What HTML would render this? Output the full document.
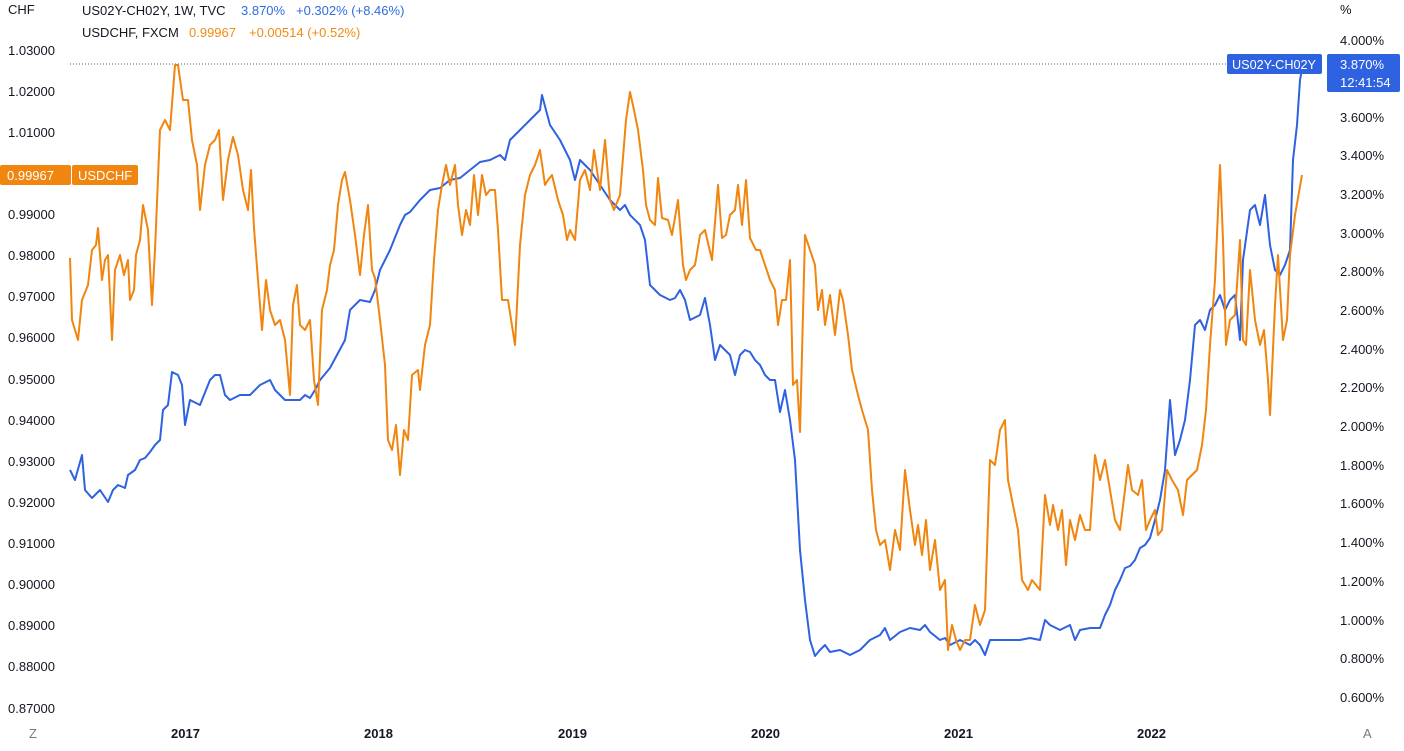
<!DOCTYPE html>
<html><head><meta charset="utf-8"><style>
body{margin:0;background:#fff;width:1404px;height:746px;overflow:hidden;font-family:"Liberation Sans",sans-serif}
svg text{font-family:"Liberation Sans",sans-serif;font-size:13px;fill:#131722}
</style></head><body>
<svg width="1404" height="746" xmlns="http://www.w3.org/2000/svg">
<rect width="1404" height="746" fill="#fff"/>
<text x="8" y="14">CHF</text>
<text x="82" y="15">US02Y-CH02Y, 1W, TVC</text>
<text x="241" y="15" style="fill:#2f6ce0">3.870%</text>
<text x="296" y="15" style="fill:#2f6ce0">+0.302% (+8.46%)</text>
<text x="82" y="37">USDCHF, FXCM</text>
<text x="189" y="37" style="fill:#f08a14">0.99967</text>
<text x="249" y="37" style="fill:#f08a14">+0.00514 (+0.52%)</text>
<g>
<text x="8" y="55">1.03000</text><text x="8" y="96">1.02000</text><text x="8" y="137">1.01000</text>
<text x="8" y="219">0.99000</text><text x="8" y="260">0.98000</text><text x="8" y="301">0.97000</text>
<text x="8" y="342">0.96000</text><text x="8" y="384">0.95000</text><text x="8" y="425">0.94000</text>
<text x="8" y="466">0.93000</text><text x="8" y="507">0.92000</text><text x="8" y="548">0.91000</text>
<text x="8" y="589">0.90000</text><text x="8" y="630">0.89000</text><text x="8" y="671">0.88000</text>
<text x="8" y="713">0.87000</text>
</g>
<g>
<text x="1340" y="14">%</text>
<text x="1340" y="45">4.000%</text><text x="1340" y="122">3.600%</text><text x="1340" y="160">3.400%</text>
<text x="1340" y="199">3.200%</text><text x="1340" y="238">3.000%</text><text x="1340" y="276">2.800%</text>
<text x="1340" y="315">2.600%</text><text x="1340" y="354">2.400%</text><text x="1340" y="392">2.200%</text>
<text x="1340" y="431">2.000%</text><text x="1340" y="470">1.800%</text><text x="1340" y="508">1.600%</text>
<text x="1340" y="547">1.400%</text><text x="1340" y="586">1.200%</text><text x="1340" y="625">1.000%</text>
<text x="1340" y="663">0.800%</text><text x="1340" y="702">0.600%</text>
</g>
<g>
<text x="171" y="738" style="font-weight:bold">2017</text><text x="364" y="738" style="font-weight:bold">2018</text>
<text x="558" y="738" style="font-weight:bold">2019</text><text x="751" y="738" style="font-weight:bold">2020</text>
<text x="944" y="738" style="font-weight:bold">2021</text><text x="1137" y="738" style="font-weight:bold">2022</text>
</g>
<text x="29" y="738" style="fill:#787b86">Z</text><text x="1363" y="738" style="fill:#787b86">A</text>
<line x1="70" y1="64" x2="1228" y2="64" stroke="#555" stroke-dasharray="1,2"/>
<polyline fill="none" stroke="#2f62e0" stroke-width="2" stroke-linejoin="round" points="70,470 75,480 82,455 85,490 92,498 100,490 108,502 113,490 118,485 125,488 128,475 135,470 140,460 145,458 150,452 155,445 160,440 163,410 168,405 172,372 178,375 182,385 185,425 190,400 200,405 210,380 215,375 220,375 225,395 230,400 240,395 250,395 260,385 270,380 275,390 285,400 300,400 305,395 310,398 315,390 320,380 330,368 345,340 350,310 360,300 370,302 375,290 380,270 390,250 400,225 405,215 410,212 420,200 430,190 440,188 450,180 460,178 470,170 480,162 490,160 500,155 505,160 510,140 520,130 530,120 540,110 542,95 550,125 560,140 570,160 575,180 580,160 590,170 600,185 610,200 620,210 625,205 630,215 640,225 645,240 650,285 660,295 670,300 675,298 680,290 685,300 690,320 700,315 705,298 710,325 715,360 720,345 730,355 735,375 740,355 745,350 750,352 755,360 760,365 765,375 770,380 775,380 780,412 785,390 790,420 795,460 800,550 805,600 810,640 815,656 820,650 825,645 830,652 840,650 850,655 860,650 870,640 880,635 885,628 890,640 900,632 910,628 920,630 925,625 930,632 940,640 945,638 950,645 960,640 970,645 975,640 980,645 985,655 990,640 1000,640 1010,640 1020,640 1030,638 1040,640 1045,620 1050,625 1060,630 1070,625 1075,640 1080,630 1090,628 1100,628 1105,615 1110,605 1115,590 1120,580 1125,568 1130,566 1135,560 1140,548 1145,545 1150,538 1155,520 1160,500 1165,470 1170,400 1175,455 1180,440 1185,420 1190,380 1195,325 1200,320 1205,330 1210,310 1215,305 1220,295 1225,310 1230,300 1235,295 1240,340 1243,260 1250,210 1255,205 1260,225 1265,195 1270,245 1275,270 1280,275 1285,265 1290,250 1293,160 1297,125 1300,80 1303,64"/>
<polyline fill="none" stroke="#f0860f" stroke-width="2" stroke-linejoin="round" points="70,258 72,320 78,340 82,300 88,285 92,250 96,245 98,228 102,280 105,260 108,255 112,340 115,270 120,255 124,275 128,260 130,300 134,290 136,255 140,240 143,205 148,230 152,305 155,250 160,130 165,120 170,130 175,65 178,65 183,100 188,100 192,140 197,165 200,210 205,165 210,145 215,140 219,130 223,200 228,160 233,137 238,155 243,190 248,210 251,170 254,228 258,280 262,330 266,280 270,310 275,325 280,320 285,340 290,395 293,305 297,285 300,325 305,330 310,320 314,380 318,405 322,310 327,290 330,265 334,250 338,205 342,180 345,172 350,200 355,235 360,275 364,235 368,205 372,270 375,278 380,320 385,365 388,440 392,450 396,425 400,475 404,430 408,440 412,375 418,370 420,390 425,345 430,325 434,260 438,210 442,185 446,165 450,185 455,165 458,205 462,235 466,210 470,225 474,175 478,215 482,175 486,195 490,190 495,190 498,230 502,300 508,300 515,345 520,245 525,195 530,175 535,165 540,150 545,185 548,180 552,175 558,200 563,215 567,240 570,230 575,240 580,180 585,170 590,190 594,150 600,190 605,140 610,200 614,210 620,195 626,120 630,92 634,110 638,130 643,170 646,205 650,220 655,225 658,178 662,218 668,220 672,235 678,200 683,265 686,280 690,270 695,265 700,235 705,230 712,260 718,185 722,238 726,235 730,215 735,210 738,185 742,225 746,180 750,238 756,250 760,250 765,265 770,280 775,290 778,325 782,300 786,300 790,260 793,385 797,380 800,432 805,235 810,250 815,265 818,310 822,290 825,325 830,295 835,335 840,290 843,300 848,335 852,370 858,395 862,410 868,430 872,490 876,530 880,545 885,540 890,570 895,530 900,550 905,470 910,510 915,545 918,525 922,555 926,520 930,570 935,540 940,590 945,580 948,650 952,625 956,640 960,650 965,640 970,640 975,605 980,625 985,610 990,460 995,465 1000,430 1005,420 1008,480 1012,500 1018,530 1022,580 1028,590 1032,580 1040,590 1045,495 1050,525 1053,505 1058,530 1062,510 1066,565 1070,520 1075,540 1080,515 1085,530 1090,530 1095,455 1100,480 1105,460 1110,490 1115,520 1120,530 1125,490 1128,465 1132,490 1138,495 1142,480 1146,530 1150,520 1155,510 1158,535 1162,530 1167,470 1172,480 1178,490 1183,515 1187,480 1192,475 1197,470 1202,445 1206,410 1210,345 1215,280 1220,165 1223,240 1226,345 1230,320 1235,315 1240,240 1243,340 1246,345 1250,270 1255,320 1260,345 1264,330 1268,380 1270,415 1275,305 1278,255 1283,340 1287,320 1290,255 1295,215 1302,175"/>
<rect x="0" y="165" width="71" height="20" rx="2" fill="#f0860f"/>
<rect x="72" y="165" width="66" height="20" rx="2" fill="#f0860f"/>
<text x="7" y="180" style="fill:#fff">0.99967</text>
<text x="78" y="180" style="fill:#fff">USDCHF</text>
<rect x="1227" y="54" width="95" height="20" rx="2" fill="#2f62e0"/>
<rect x="1327" y="54" width="73" height="38" rx="2" fill="#2f62e0"/>
<text x="1232" y="69" style="fill:#fff" textLength="84" lengthAdjust="spacingAndGlyphs">US02Y-CH02Y</text>
<text x="1340" y="69" style="fill:#fff">3.870%</text>
<text x="1340" y="87" style="fill:#fff">12:41:54</text>
</svg>
</body></html>
